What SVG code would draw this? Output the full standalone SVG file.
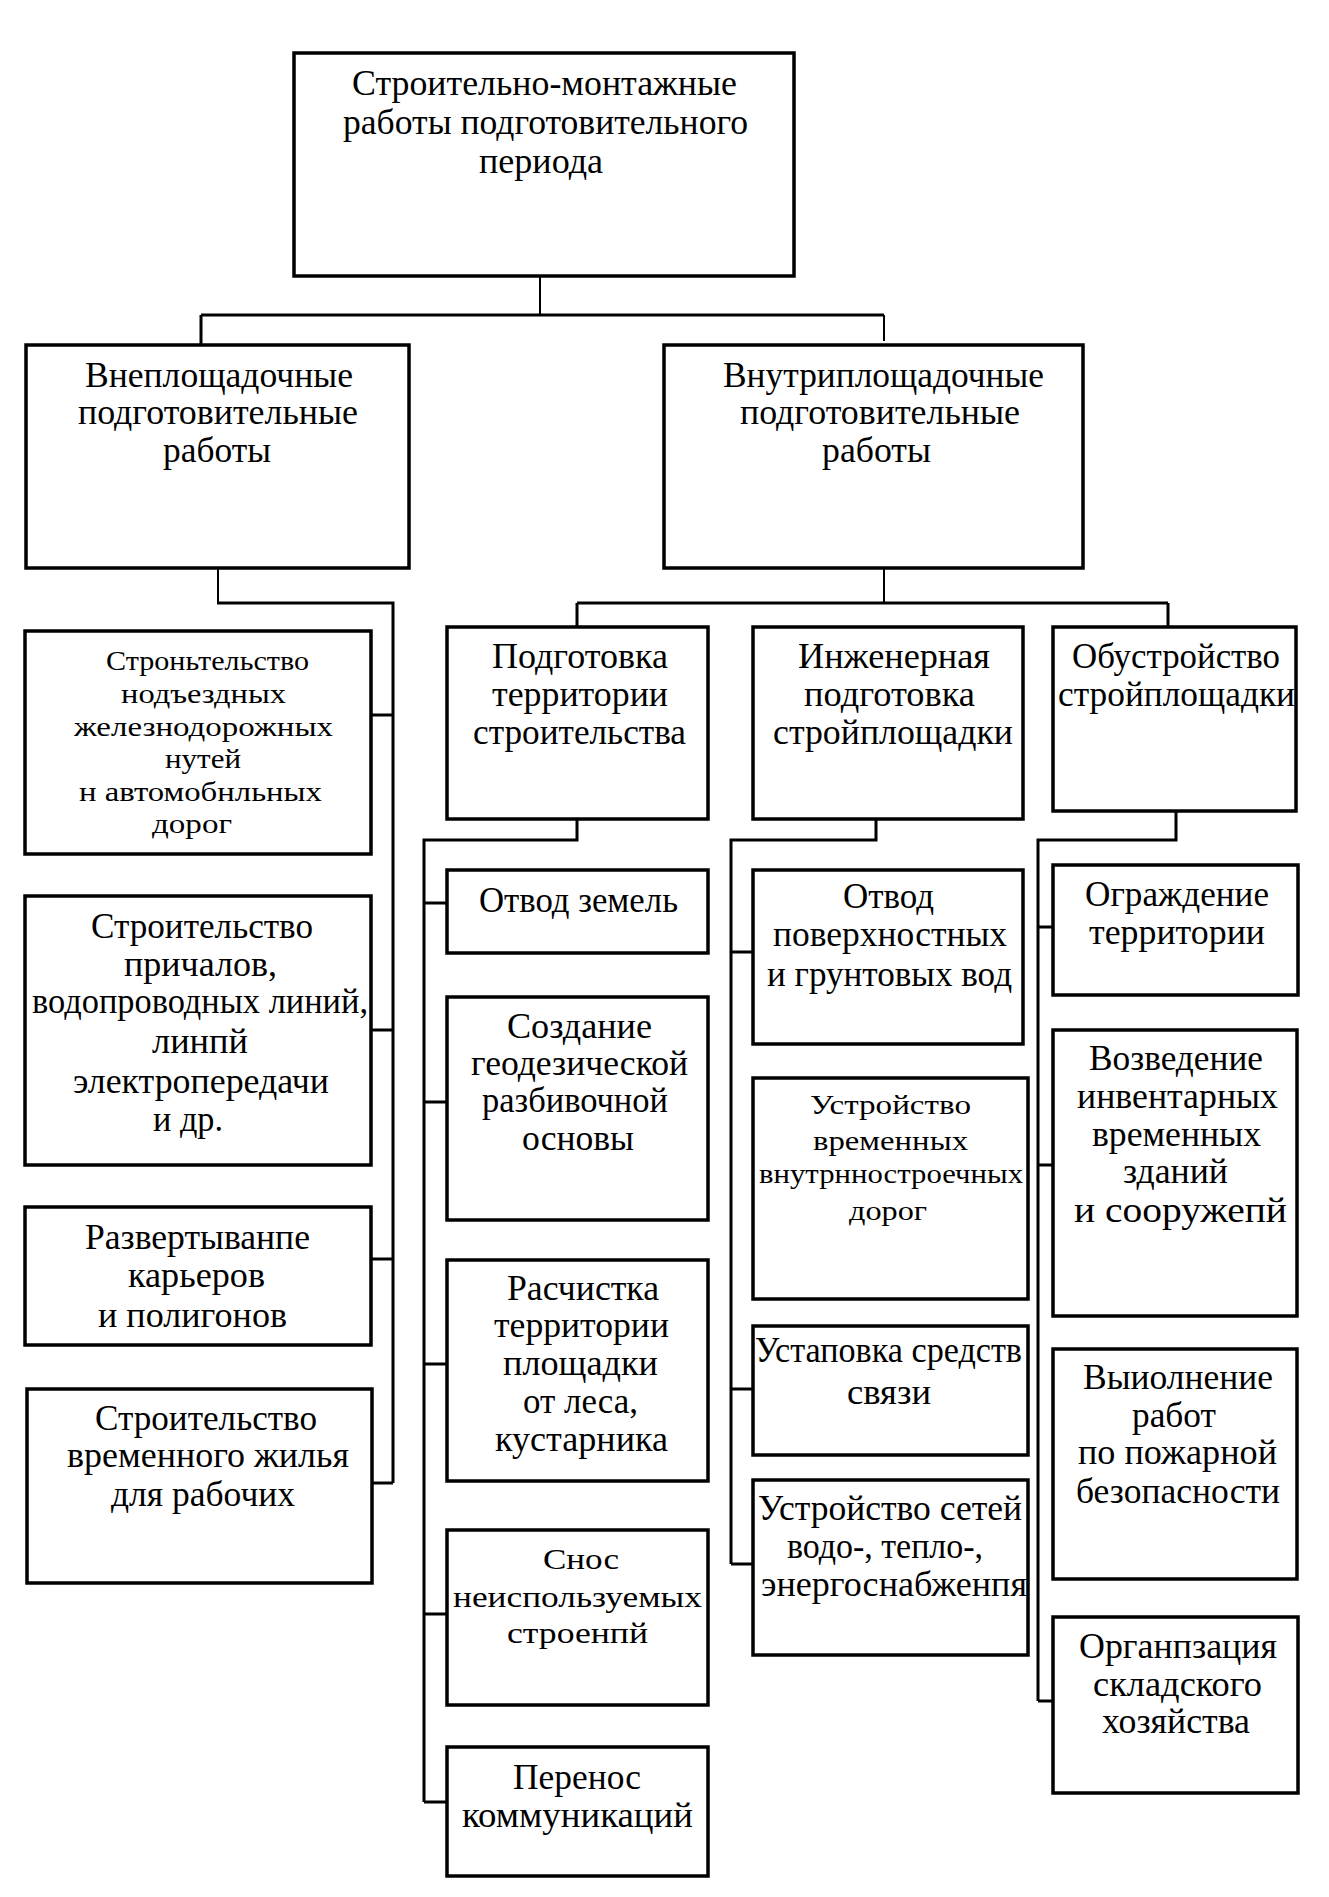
<svg xmlns="http://www.w3.org/2000/svg" width="1329" height="1897" viewBox="0 0 1329 1897">
<style>
rect{fill:#fff;stroke:#000;stroke-width:3.5}
.c path{fill:none;stroke:#000;stroke-width:3}
.c .thin{stroke-width:2}
text{fill:#000;text-anchor:middle}
.t1{font-family:"Liberation Serif","Times New Roman",serif;font-size:35px}
.t2{font-family:"Liberation Serif","Times New Roman",serif;font-size:35px}
.t3{font-family:"Liberation Serif","Times New Roman",serif;font-size:28px}
.t4{font-family:"Liberation Serif","Times New Roman",serif;font-size:30px}
</style>
<rect width="1329" height="1897" style="stroke:none"/>
<g class="c" id="connectors">
<path class="thin" d="M540 276V315"/>
<path d="M201 315H884M201 315V345"/>
<path class="thin" d="M884 315V341"/>
<path class="thin" d="M218 568V603"/>
<path d="M217 603H393V1483M371 715H393M371 1030H393M371 1259H393M372 1483H393"/>
<path class="thin" d="M884 568V603"/>
<path d="M577 603H1168M577 603V627M1168 603V627"/>
<path d="M577 815V840H424V1802M424 903H447M424 1102H447M424 1364H447M424 1614H447M424 1802H447"/>
<path d="M876 815V840H731V1564M731 952H753M731 1389H753M731 1564H753"/>
<path d="M1176 811V840H1038V1701M1038 927H1053M1038 1165H1053M1038 1701H1053"/>
</g>
<g id="top"><rect x="294" y="53" width="500" height="223"/>
<text class="t1" x="544.5" y="95" textLength="385" lengthAdjust="spacingAndGlyphs">Строительно-монтажные</text>
<text class="t1" x="545.5" y="134" textLength="405" lengthAdjust="spacingAndGlyphs">работы подготовительного</text>
<text class="t1" x="541" y="173" textLength="124" lengthAdjust="spacingAndGlyphs">периода</text></g>
<g id="offsite"><rect x="26" y="345" width="383" height="223"/>
<text class="t1" x="219" y="387" textLength="268" lengthAdjust="spacingAndGlyphs">Внеплощадочные</text>
<text class="t1" x="218" y="424" textLength="280" lengthAdjust="spacingAndGlyphs">подготовительные</text>
<text class="t1" x="217" y="462" textLength="108" lengthAdjust="spacingAndGlyphs">работы</text></g>
<g id="onsite"><rect x="664" y="345" width="419" height="223"/>
<text class="t1" x="883.5" y="387" textLength="321" lengthAdjust="spacingAndGlyphs">Внутриплощадочные</text>
<text class="t1" x="880" y="424" textLength="280" lengthAdjust="spacingAndGlyphs">подготовительные</text>
<text class="t1" x="876.5" y="462" textLength="109" lengthAdjust="spacingAndGlyphs">работы</text></g>
<g id="a1"><rect x="25" y="631" width="346" height="223"/>
<text class="t3" x="207.5" y="670" textLength="203" lengthAdjust="spacingAndGlyphs">Строньтельство</text>
<text class="t3" x="203.5" y="703" textLength="165" lengthAdjust="spacingAndGlyphs">нодъездных</text>
<text class="t3" x="203.5" y="736" textLength="259" lengthAdjust="spacingAndGlyphs">железнодорожных</text>
<text class="t3" x="203" y="768" textLength="76" lengthAdjust="spacingAndGlyphs">нутей</text>
<text class="t3" x="200.5" y="801" textLength="243" lengthAdjust="spacingAndGlyphs">н автомобнльных</text>
<text class="t3" x="192" y="833" textLength="80" lengthAdjust="spacingAndGlyphs">дорог</text></g>
<g id="a2"><rect x="25" y="896" width="346" height="269"/>
<text class="t2" x="202" y="938" textLength="222" lengthAdjust="spacingAndGlyphs">Строительство</text>
<text class="t2" x="200.5" y="976" textLength="153" lengthAdjust="spacingAndGlyphs">причалов,</text>
<text class="t2" x="200" y="1013" textLength="336" lengthAdjust="spacingAndGlyphs">водопроводных линий,</text>
<text class="t2" x="200" y="1053" textLength="96" lengthAdjust="spacingAndGlyphs">линпй</text>
<text class="t2" x="201" y="1093" textLength="256" lengthAdjust="spacingAndGlyphs">электропередачи</text>
<text class="t2" x="188" y="1131" textLength="70" lengthAdjust="spacingAndGlyphs">и др.</text></g>
<g id="a3"><rect x="25" y="1207" width="346" height="138"/>
<text class="t2" x="197.5" y="1249" textLength="225" lengthAdjust="spacingAndGlyphs">Развертыванпе</text>
<text class="t2" x="196.5" y="1287" textLength="137" lengthAdjust="spacingAndGlyphs">карьеров</text>
<text class="t2" x="192.5" y="1327" textLength="189" lengthAdjust="spacingAndGlyphs">и полигонов</text></g>
<g id="a4"><rect x="27" y="1389" width="345" height="194"/>
<text class="t2" x="206" y="1430" textLength="222" lengthAdjust="spacingAndGlyphs">Строительство</text>
<text class="t2" x="208" y="1467" textLength="282" lengthAdjust="spacingAndGlyphs">временного жилья</text>
<text class="t2" x="203" y="1506" textLength="184" lengthAdjust="spacingAndGlyphs">для рабочих</text></g>
<g id="b0"><rect x="447" y="627" width="261" height="192"/>
<text class="t2" x="580" y="668" textLength="176" lengthAdjust="spacingAndGlyphs">Подготовка</text>
<text class="t2" x="580" y="706" textLength="176" lengthAdjust="spacingAndGlyphs">территории</text>
<text class="t2" x="579.5" y="744" textLength="213" lengthAdjust="spacingAndGlyphs">строительства</text></g>
<g id="b1"><rect x="447" y="870" width="261" height="83"/>
<text class="t2" x="578.5" y="912" textLength="199" lengthAdjust="spacingAndGlyphs">Отвод земель</text></g>
<g id="b2"><rect x="447" y="997" width="261" height="223"/>
<text class="t2" x="579.5" y="1038" textLength="145" lengthAdjust="spacingAndGlyphs">Создание</text>
<text class="t2" x="579.5" y="1075" textLength="217" lengthAdjust="spacingAndGlyphs">геодезической</text>
<text class="t2" x="575" y="1112" textLength="186" lengthAdjust="spacingAndGlyphs">разбивочной</text>
<text class="t2" x="578" y="1150" textLength="112" lengthAdjust="spacingAndGlyphs">основы</text></g>
<g id="b3"><rect x="447" y="1260" width="261" height="221"/>
<text class="t2" x="583" y="1300" textLength="152" lengthAdjust="spacingAndGlyphs">Расчистка</text>
<text class="t2" x="581.5" y="1337" textLength="175" lengthAdjust="spacingAndGlyphs">территории</text>
<text class="t2" x="580.5" y="1375" textLength="155" lengthAdjust="spacingAndGlyphs">площадки</text>
<text class="t2" x="580.5" y="1413" textLength="115" lengthAdjust="spacingAndGlyphs">от леса,</text>
<text class="t2" x="581.5" y="1451" textLength="173" lengthAdjust="spacingAndGlyphs">кустарника</text></g>
<g id="b4"><rect x="447" y="1530" width="261" height="175"/>
<text class="t4" x="581" y="1569" textLength="76" lengthAdjust="spacingAndGlyphs">Снос</text>
<text class="t4" x="577.5" y="1607" textLength="249" lengthAdjust="spacingAndGlyphs">неиспользуемых</text>
<text class="t4" x="577.5" y="1643" textLength="141" lengthAdjust="spacingAndGlyphs">строенпй</text></g>
<g id="b5"><rect x="447" y="1747" width="261" height="129"/>
<text class="t2" x="577" y="1789" textLength="128" lengthAdjust="spacingAndGlyphs">Перенос</text>
<text class="t2" x="577.5" y="1827" textLength="231" lengthAdjust="spacingAndGlyphs">коммуникаций</text></g>
<g id="c0"><rect x="753" y="627" width="270" height="192"/>
<text class="t2" x="894" y="668" textLength="192" lengthAdjust="spacingAndGlyphs">Инженерная</text>
<text class="t2" x="889.5" y="706" textLength="171" lengthAdjust="spacingAndGlyphs">подготовка</text>
<text class="t2" x="893" y="744" textLength="240" lengthAdjust="spacingAndGlyphs">стройплощадки</text></g>
<g id="c1"><rect x="753" y="870" width="270" height="174"/>
<text class="t2" x="888.5" y="908" textLength="91" lengthAdjust="spacingAndGlyphs">Отвод</text>
<text class="t2" x="890" y="946" textLength="234" lengthAdjust="spacingAndGlyphs">поверхностных</text>
<text class="t2" x="889.5" y="986" textLength="245" lengthAdjust="spacingAndGlyphs">и грунтовых вод</text></g>
<g id="c2"><rect x="753" y="1078" width="275" height="221"/>
<text class="t3" x="890.5" y="1114" textLength="161" lengthAdjust="spacingAndGlyphs">Устройство</text>
<text class="t3" x="890.5" y="1150" textLength="155" lengthAdjust="spacingAndGlyphs">временных</text>
<text class="t3" x="891" y="1183" textLength="264" lengthAdjust="spacingAndGlyphs">внутрнностроечных</text>
<text class="t3" x="888" y="1220" textLength="78" lengthAdjust="spacingAndGlyphs">дорог</text></g>
<g id="c3"><rect x="753" y="1326" width="275" height="129"/>
<text class="t2" x="888.5" y="1362" textLength="267" lengthAdjust="spacingAndGlyphs">Устаповка средств</text>
<text class="t2" x="889" y="1404" textLength="84" lengthAdjust="spacingAndGlyphs">связи</text></g>
<g id="c4"><rect x="753" y="1480" width="275" height="175"/>
<text class="t2" x="890" y="1520" textLength="264" lengthAdjust="spacingAndGlyphs">Устройство сетей</text>
<text class="t2" x="885" y="1558" textLength="196" lengthAdjust="spacingAndGlyphs">водо-, тепло-,</text>
<text class="t2" x="894" y="1596" textLength="266" lengthAdjust="spacingAndGlyphs">энергоснабженпя</text></g>
<g id="d0"><rect x="1053" y="627" width="243" height="184"/>
<text class="t2" x="1176" y="668" textLength="208" lengthAdjust="spacingAndGlyphs">Обустройство</text>
<text class="t2" x="1176.5" y="706" textLength="237" lengthAdjust="spacingAndGlyphs">стройплощадки</text></g>
<g id="d1"><rect x="1053" y="865" width="245" height="130"/>
<text class="t2" x="1177" y="906" textLength="184" lengthAdjust="spacingAndGlyphs">Ограждение</text>
<text class="t2" x="1177" y="944" textLength="176" lengthAdjust="spacingAndGlyphs">территории</text></g>
<g id="d2"><rect x="1053" y="1030" width="244" height="286"/>
<text class="t2" x="1176" y="1070" textLength="174" lengthAdjust="spacingAndGlyphs">Возведение</text>
<text class="t2" x="1177.5" y="1108" textLength="201" lengthAdjust="spacingAndGlyphs">инвентарных</text>
<text class="t2" x="1176.5" y="1146" textLength="169" lengthAdjust="spacingAndGlyphs">временных</text>
<text class="t2" x="1175.5" y="1183" textLength="105" lengthAdjust="spacingAndGlyphs">зданий</text>
<text class="t2" x="1180.5" y="1222" textLength="213" lengthAdjust="spacingAndGlyphs">и сооружепй</text></g>
<g id="d3"><rect x="1053" y="1349" width="244" height="230"/>
<text class="t2" x="1178" y="1389" textLength="190" lengthAdjust="spacingAndGlyphs">Выиолнение</text>
<text class="t2" x="1174" y="1427" textLength="84" lengthAdjust="spacingAndGlyphs">работ</text>
<text class="t2" x="1177.5" y="1464" textLength="199" lengthAdjust="spacingAndGlyphs">по пожарной</text>
<text class="t2" x="1178" y="1503" textLength="204" lengthAdjust="spacingAndGlyphs">безопасности</text></g>
<g id="d4"><rect x="1053" y="1617" width="245" height="176"/>
<text class="t2" x="1178" y="1658" textLength="198" lengthAdjust="spacingAndGlyphs">Органпзация</text>
<text class="t2" x="1177.5" y="1696" textLength="169" lengthAdjust="spacingAndGlyphs">складского</text>
<text class="t2" x="1176" y="1733" textLength="148" lengthAdjust="spacingAndGlyphs">хозяйства</text></g>
</svg>
